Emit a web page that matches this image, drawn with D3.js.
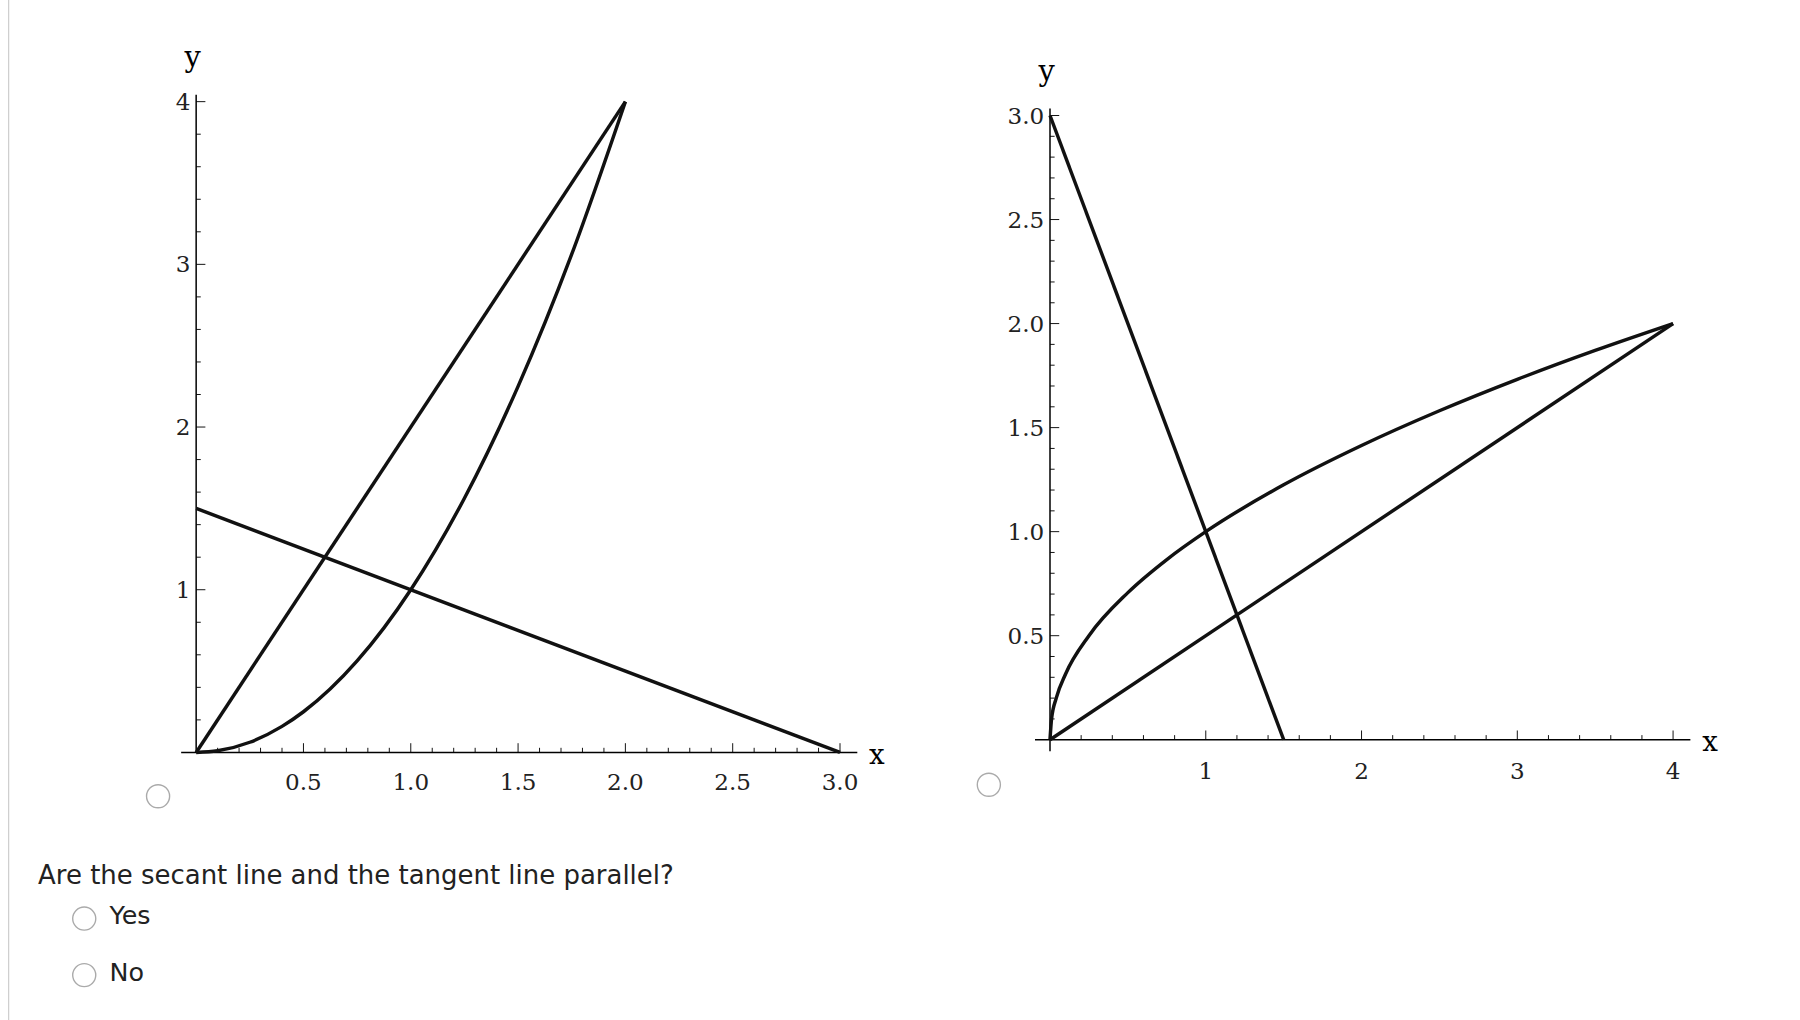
<!DOCTYPE html>
<html><head><meta charset="utf-8">
<script src="https://cdn.jsdelivr.net/npm/d3@7"></script>
<style>body{margin:0;background:#fff}svg{display:block}</style>
</head><body>
<svg id="c" width="1800" height="1026" viewBox="0 0 1560 889"></svg>
<script>
// Left plot data
const curveAX=[0,0.1,0.25,0.4,0.5,0.75,1,1.25,1.5,1.75,2];
const curveAY=[0,0.01,0.0625,0.16,0.25,0.5625,1,1.5625,2.25,3.0625,4];
const secantA=[[0,0],[2,4]];
const tangentA=[[0,1.5],[3,0]];
const xTicksA=["0.5","1.0","1.5","2.0","2.5","3.0"];
const yTicksA=["1","2","3","4"];
// Right plot data
const curveBX=[0,0.01,0.04,0.1,0.25,0.5,0.75,1,1.5,2,2.5,3,3.5,4];
const curveBY=[0,0.1,0.2,0.316,0.5,0.707,0.866,1,1.225,1.414,1.581,1.732,1.871,2];
const secantB=[[0,0],[4,2]];
const tangentB=[[0,3],[1.5,0]];
const xTicksB=["1","2","3","4"];
const yTicksB=["0.5","1.0","1.5","2.0","2.5","3.0"];

const svg=d3.select("#c");
svg.append("rect").attr("x",7.5).attr("y",-5).attr("width",1570).attr("height",892.5).attr("fill","none").attr("stroke","#ccc");
const serif="'DejaVu Serif','Liberation Serif',serif";

function plot(o){
  const x=d3.scaleLinear().domain(o.xd).range(o.xr);
  const y=d3.scaleLinear().domain(o.yd).range(o.yr);
  const g=svg.append("g");
  g.append("line").attr("x1",o.xr[0]-13).attr("x2",x(o.xd[1])+15).attr("y1",y(0)).attr("y2",y(0)).attr("stroke","#000").attr("stroke-width",1.3);
  g.append("line").attr("x1",x(0)).attr("x2",x(0)).attr("y1",y(0)+(o.yDown||0)).attr("y2",y(o.yd[1])-6).attr("stroke","#000").attr("stroke-width",1.3);
  d3.range(o.xd[0]+o.xMinor,o.xd[1]+1e-9,o.xMinor).forEach(v=>{
    const major=Math.abs(v/o.xMajor-Math.round(v/o.xMajor))<1e-6;
    g.append("line").attr("x1",x(v)).attr("x2",x(v)).attr("y1",y(0)).attr("y2",y(0)-(major?8:4)).attr("stroke","#000").attr("stroke-width",0.8);
  });
  d3.range(o.yMinor,o.yd[1]+1e-9,o.yMinor).forEach(v=>{
    const major=Math.abs(v/o.yMajor-Math.round(v/o.yMajor))<1e-6;
    g.append("line").attr("x1",x(0)).attr("x2",x(0)+(major?8:4)).attr("y1",y(v)).attr("y2",y(v)).attr("stroke","#000").attr("stroke-width",0.8);
  });
  o.xTicks.forEach(t=>g.append("text").attr("x",x(+t)).attr("y",y(0)+o.xLabDy).attr("text-anchor","middle").attr("font-family",serif).attr("font-size",20).attr("fill","#222").text(t));
  o.yTicks.forEach(t=>g.append("text").attr("x",x(0)-5).attr("y",y(+t)+7).attr("text-anchor","end").attr("font-family",serif).attr("font-size",20).attr("fill","#222").text(t));
  g.append("text").attr("x",x(0)-3).attr("y",y(o.yd[1])-30).attr("text-anchor","middle").attr("font-family",serif).attr("font-size",25).text("y");
  g.append("text").attr("x",x(o.xd[1])+32).attr("y",y(0)+o.xNameDy).attr("text-anchor","middle").attr("font-family",serif).attr("font-size",24).text("x");
  const line=d3.line().x(d=>x(d[0])).y(d=>y(d[1]));
  const pts=o.cx.map((v,i)=>[v,o.cy[i]]);
  g.append("path").attr("d",line.curve(d3.curveMonotoneX)(pts)).attr("fill","none").attr("stroke","#111").attr("stroke-width",3);
  const l2=d3.line().x(d=>x(d[0])).y(d=>y(d[1]));
  [o.sec,o.tan].forEach(s=>g.append("path").attr("d",l2(s)).attr("fill","none").attr("stroke","#111").attr("stroke-width",3));
}
plot({xd:[0,3],xr:[170,728],yd:[0,4],yr:[652,88],xMinor:0.1,xMajor:0.5,yMinor:0.2,yMajor:1,
  xTicks:xTicksA,yTicks:yTicksA,xLabDy:33,xNameDy:10,cx:curveAX,cy:curveAY,sec:secantA,tan:tangentA});
plot({xd:[0,4],xr:[910,1450],yd:[0,3],yr:[641,100],xMinor:0.2,xMajor:1,yMinor:0.1,yMajor:0.5,yDown:10,
  xTicks:xTicksB,yTicks:yTicksB,xLabDy:34,xNameDy:10,cx:curveBX,cy:curveBY,sec:secantB,tan:tangentB});

function radio(cx,cy){svg.append("circle").attr("cx",cx).attr("cy",cy).attr("r",10).attr("fill","#fff").attr("stroke","#aaa").attr("stroke-width",1.2);}
radio(137,690);radio(857,680);radio(73,796);radio(73,845);
const sans="'DejaVu Sans',Verdana,sans-serif";
svg.append("text").attr("x",33).attr("y",766).attr("font-family",sans).attr("font-size",22.5).attr("fill","#222").text("Are the secant line and the tangent line parallel?");
svg.append("text").attr("x",95).attr("y",801).attr("font-family",sans).attr("font-size",22).attr("fill","#222").text("Yes");
svg.append("text").attr("x",95).attr("y",850).attr("font-family",sans).attr("font-size",22).attr("fill","#222").text("No");
</script>
</body></html>
